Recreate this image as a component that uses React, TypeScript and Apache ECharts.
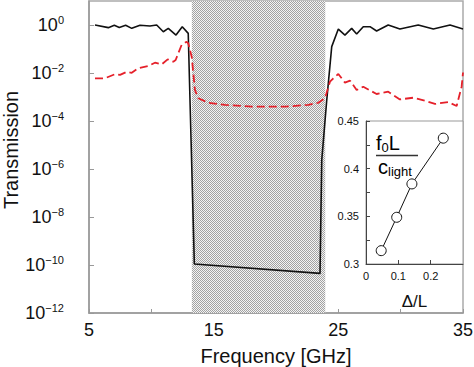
import React, { useEffect, useRef } from 'react';
import * as echarts from 'echarts';

// Stop band (shaded) in GHz
const bandRange = [13.25, 23.95];

// Black solid curve: frequency (GHz) and log10(transmission)
const blackFreq = [5.48, 6.55, 7.03, 7.43, 7.94, 8.43, 9.09, 9.89, 10.43, 10.96, 11.36, 11.98, 12.48, 12.96, 13.45, 23.53, 23.67, 24.07, 24.47, 25.0, 25.53, 26.07, 26.47, 27.0, 27.54, 28.07, 29.0, 29.94, 31.41, 32.62, 33.96, 35.0];
const blackLog10 = [0, -0.11, -0.01, -0.1, -0.01, -0.14, -0.01, -0.04, 0, -0.28, -0.14, -0.42, -0.07, -0.35, -9.96, -10.35, -5.63, -3.13, -0.9, -0.17, -0.42, -0.14, -0.375, -0.07, -0.07, -0.25, 0, -0.17, 0, -0.17, 0, -0.17];

// Red dashed curve: frequency (GHz) and log10(transmission)
const redFreq = [5.48, 6.28, 7.09, 7.49, 8.02, 8.43, 8.95, 9.76, 10.29, 10.83, 11.31, 11.76, 11.95, 12.43, 12.83, 12.96, 13.24, 13.5, 13.77, 14.57, 15.91, 18.05, 20.72, 22.59, 23.39, 23.93, 24.33, 24.6, 25.0, 25.53, 25.94, 26.47, 27.0, 28.07, 29.0, 29.94, 31.01, 31.95, 32.75, 33.82, 34.49, 34.89, 35.0];
const redLog10 = [-2.22, -2.22, -2.05, -2.08, -1.95, -1.99, -1.8, -1.71, -1.57, -1.64, -1.43, -1.53, -1.46, -0.83, -0.7, -0.76, -1.33, -2.71, -3.05, -3.24, -3.33, -3.4, -3.4, -3.33, -3.24, -3.05, -2.36, -2.22, -2.04, -2.4, -2.32, -2.71, -2.57, -2.875, -2.78, -3.1, -3.03, -3.15, -3.29, -3.21, -3.375, -2.57, -1.98];

// Main axis tick labels
const xLabelValues = [5, 15, 25, 35];

// Inset data
const insetDelta = [0.047, 0.095, 0.142, 0.239];
const insetF0L = [0.314, 0.349, 0.384, 0.432];
const insetYLabelValues = [0.3, 0.35, 0.4, 0.45];

const FONT = 'Liberation Sans, Arial, Helvetica, sans-serif';

function makePattern(): string {
  const c = document.createElement('canvas');
  c.width = 2;
  c.height = 2;
  const ctx = c.getContext('2d')!;
  ctx.fillStyle = '#f4f4f4';
  ctx.fillRect(0, 0, 2, 2);
  ctx.fillStyle = '#a2a2a2';
  ctx.fillRect(0, 0, 1, 1);
  ctx.fillRect(1, 1, 1, 1);
  return c.toDataURL();
}

export default function App() {
  const ref = useRef<HTMLDivElement>(null);

  useEffect(() => {
    if (!ref.current) return;
    const chart = echarts.init(ref.current, null, { renderer: 'svg' });

    const blackData = blackFreq.map((f, i) => [f, Math.pow(10, blackLog10[i])]);
    const redData = redFreq.map((f, i) => [f, Math.pow(10, redLog10[i])]);
    const insetData = insetDelta.map((d, i) => [d, insetF0L[i]]);

    const patternSrc = makePattern();

    const supLabel = (v: number) => {
      const e = Math.round(Math.log10(v));
      const s = e < 0 ? '\u2212' + String(-e) : String(e);
      return '{b|10}{s|' + s + '}';
    };

    const fracRich = {
      a: { fontSize: 20, lineHeight: 22, color: '#111', fontFamily: FONT },
      b: { fontSize: 13, lineHeight: 13, verticalAlign: 'bottom', color: '#111', fontFamily: FONT },
    };

    const option: any = {
      animation: false,
      backgroundColor: '#fff',
      textStyle: { fontFamily: FONT },
      grid: [
        {
          left: 89, top: 1, right: 11, bottom: 54,
          show: true, borderColor: '#aaa', borderWidth: 1.5,
          backgroundColor: 'transparent', containLabel: false, outerBoundsMode: 'none',
        },
        {
          left: 366, top: 121, right: 11, bottom: 103,
          show: true, borderColor: '#999', borderWidth: 1,
          backgroundColor: '#fff', containLabel: false, outerBoundsMode: 'none',
        },
      ],
      xAxis: [
        {
          type: 'value', gridIndex: 0, min: 5, max: 35, interval: 5,
          axisLine: { show: true, lineStyle: { color: '#999', width: 1.5 } },
          axisTick: { show: true, inside: true, length: 4, lineStyle: { color: '#999', width: 1 } },
          axisLabel: {
            fontSize: 18, color: '#111', margin: 8, fontFamily: FONT,
            formatter: (v: number) => (xLabelValues.indexOf(v) >= 0 ? String(v) : ''),
          },
          splitLine: { show: false },
          name: 'Frequency [GHz]', nameLocation: 'middle', nameGap: 33,
          nameTextStyle: { fontSize: 20, color: '#111', fontFamily: FONT },
        },
        {
          type: 'value', gridIndex: 1, min: 0, max: 0.3, interval: 0.1,
          axisLine: { show: true, lineStyle: { color: '#444', width: 1 } },
          axisTick: { show: true, inside: true, length: 4, lineStyle: { color: '#444', width: 1 } },
          axisLabel: {
            fontSize: 11, color: '#111', margin: 6, fontFamily: FONT,
            showMaxLabel: false,
            formatter: (v: number) => String(+v.toFixed(2)),
          },
          splitLine: { show: false },
          name: '\u0394/L', nameLocation: 'middle', nameGap: 29,
          nameTextStyle: { fontSize: 17, color: '#111', fontFamily: FONT },
        },
      ],
      yAxis: [
        {
          type: 'log', gridIndex: 0, logBase: 10, min: 1e-12, max: 10, interval: 2,
          axisLine: { show: true, lineStyle: { color: '#999', width: 1.5 } },
          axisTick: { show: true, inside: true, length: 5, lineStyle: { color: '#999', width: 1 } },
          minorTick: { show: false },
          axisLabel: {
            margin: 25, showMaxLabel: false, color: '#111', fontFamily: FONT,
            formatter: supLabel,
            rich: {
              b: { fontSize: 18, lineHeight: 22, color: '#111', fontFamily: FONT },
              s: { fontSize: 11, lineHeight: 11, verticalAlign: 'top', color: '#111', fontFamily: FONT },
            },
          },
          splitLine: { show: false },
        },
        {
          type: 'value', gridIndex: 1, min: 0.3, max: 0.45, interval: 0.025,
          axisLine: { show: true, lineStyle: { color: '#444', width: 1 } },
          axisTick: { show: true, inside: true, length: 4, lineStyle: { color: '#444', width: 1 } },
          axisLabel: {
            fontSize: 11, color: '#111', margin: 7, fontFamily: FONT,
            formatter: (v: number) => {
              const r = +v.toFixed(3);
              return insetYLabelValues.some((t) => Math.abs(t - r) < 1e-6) ? String(+v.toFixed(2)) : '';
            },
          },
          splitLine: { show: false },
        },
      ],
      series: [
        {
          type: 'line', xAxisIndex: 0, yAxisIndex: 0, z: 1,
          data: [], silent: true,
          markArea: {
            silent: true,
            itemStyle: {
              color: { image: patternSrc, repeat: 'repeat', imageWidth: 2, imageHeight: 2 },
              borderWidth: 0,
            },
            data: [[{ xAxis: bandRange[0] }, { xAxis: bandRange[1] }]],
          },
        },
        {
          name: 'black', type: 'line', xAxisIndex: 0, yAxisIndex: 0, z: 3,
          data: blackData, showSymbol: false, symbol: 'none',
          lineStyle: { color: '#111', width: 1.6 },
        },
        {
          name: 'red', type: 'line', xAxisIndex: 0, yAxisIndex: 0, z: 3,
          data: redData, showSymbol: false, symbol: 'none',
          lineStyle: { color: '#e5202a', width: 1.8, type: [8, 4] },
        },
        {
          name: 'inset', type: 'line', xAxisIndex: 1, yAxisIndex: 1, z: 6,
          data: insetData, symbol: 'circle', symbolSize: 10, showSymbol: true,
          lineStyle: { color: '#111', width: 1 },
          itemStyle: { color: '#fff', borderColor: '#111', borderWidth: 1 },
        },
      ],
      graphic: [
        {
          type: 'text', x: 10.5, y: 150, rotation: Math.PI / 2, z: 10,
          style: { text: 'Transmission', fontSize: 20, fill: '#111', align: 'center', verticalAlign: 'middle', fontFamily: FONT },
        },
        {
          type: 'text', x: 376, y: 154, z: 10,
          style: { text: '{a|f}{b|0}{a|L}', rich: fracRich, align: 'left', verticalAlign: 'bottom', fontFamily: FONT },
        },
        {
          type: 'line', z: 10,
          shape: { x1: 376, y1: 155.5, x2: 418, y2: 155.5 },
          style: { stroke: '#333', lineWidth: 1.5 },
        },
        {
          type: 'text', x: 378, y: 156, z: 10,
          style: { text: '{a|c}{b|light}', rich: fracRich, align: 'left', verticalAlign: 'top', fontFamily: FONT },
        },
      ],
    };

    chart.setOption(option);
    return () => chart.dispose();
  }, []);

  return (
    <div
      ref={ref}
      style={{ position: 'fixed', left: 0, top: 0, width: 474, height: 367, background: '#fff' }}
    />
  );
}
